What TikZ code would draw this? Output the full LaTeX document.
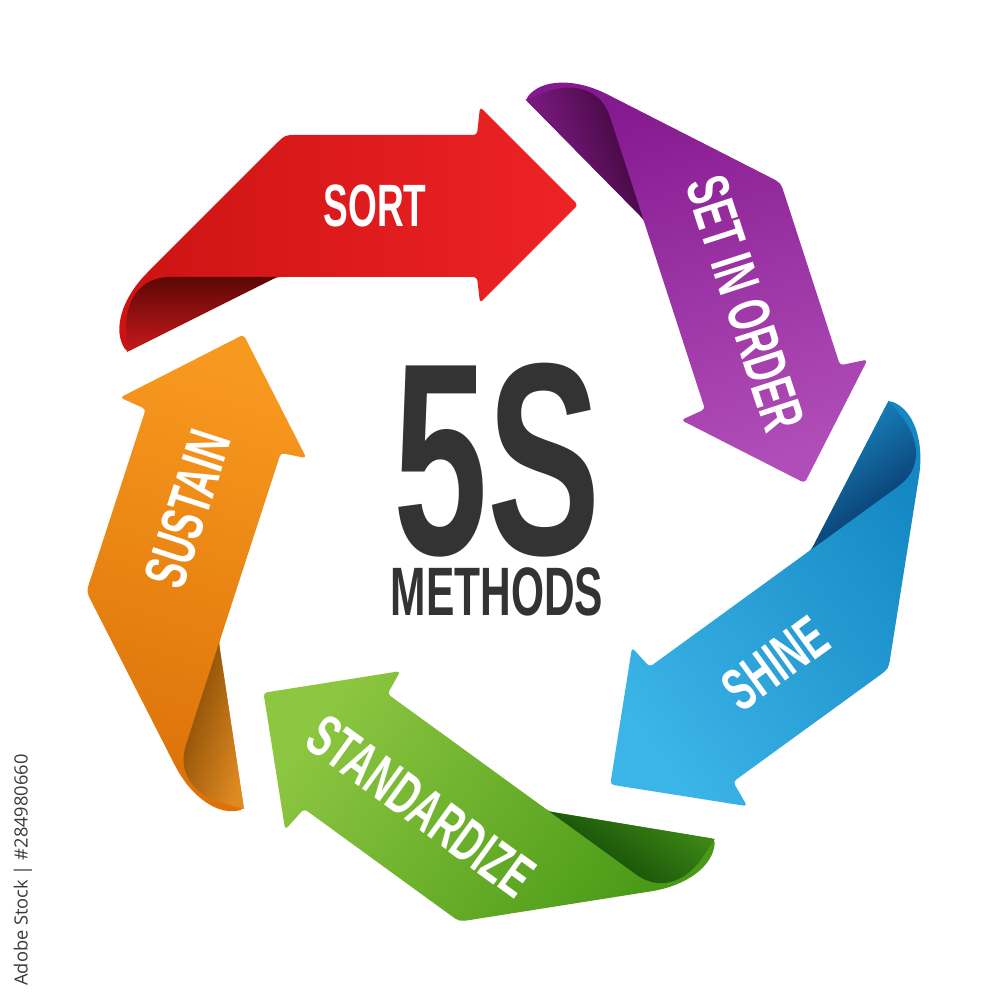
\documentclass[tikz,border=0pt]{standalone}
\usepackage{fontspec}
\usepackage{graphicx}
\usepackage{xcolor}
\newfontfamily\condfont{Liberation Sans}
\newfontfamily\stockfont{Open Sans}
\newcommand\narrowtext[1]{\scalebox{0.62}[1]{#1}}

\definecolor{ink}{HTML}{333333}
\definecolor{stockgray}{HTML}{3A3A3A}
\definecolor{sortA}{HTML}{CC1212}
\definecolor{sortB}{HTML}{EE2326}
\definecolor{sortC}{HTML}{5C0804}
\definecolor{sortD}{HTML}{C8191D}
\definecolor{orderA}{HTML}{85198F}
\definecolor{orderB}{HTML}{B04DB8}
\definecolor{orderC}{HTML}{3A0635}
\definecolor{orderD}{HTML}{8A1E93}
\definecolor{shineA}{HTML}{1588C3}
\definecolor{shineB}{HTML}{3BB4E7}
\definecolor{shineC}{HTML}{052B5C}
\definecolor{shineD}{HTML}{1B8BC6}
\definecolor{standA}{HTML}{4A9A17}
\definecolor{standB}{HTML}{8DC641}
\definecolor{standC}{HTML}{0A3D04}
\definecolor{standD}{HTML}{3F8A16}
\definecolor{keepA}{HTML}{DC7208}
\definecolor{keepB}{HTML}{F8991F}
\definecolor{keepC}{HTML}{7A4300}
\definecolor{keepD}{HTML}{E08A22}

\begin{document}
\begin{tikzpicture}[word/.style={text=white,inner sep=0pt,font=\condfont\bfseries\fontsize{17}{17}\selectfont}]
  \fill[white] (-5,-5) rectangle (5,5);
  \useasboundingbox (-5,-5) rectangle (5,5);

  % one ribbon arrow per step, turned round the centre
  \foreach \ang/\tl/\hd/\fa/\fb/\txt/\wang/\wx/\nm [evaluate=\ang as \sang using \ang+90] in
    {0/sortA/sortB/sortC/sortD/SORT/0/-1.25/sort,
     -72/orderA/orderB/orderC/orderD/SET IN ORDER/-72/-1.11/setinorder,
     -144/shineA/shineB/shineC/shineD/SHINE/36/-1.27/shine,
     -216/standA/standB/standC/standD/STANDARDIZE/-36/-1.16/standardize,
     -288/keepA/keepB/keepC/keepD/SUSTAIN/72/-1.05/sustain}
  {
    \begin{scope}[rotate=\ang]
      \shade[left color=\tl,right color=\hd,shading angle=\sang,rounded corners=1pt]
        (0.78,2.95) -- (-0.20,3.93) -- (-0.23,3.65) -- (-2.0,3.65)
        .. controls (-2.15,3.65) .. (-2.26,3.54) -- (-3.50,2.30)
        .. controls (-3.78,2.02) and (-3.88,1.70) .. (-3.73,1.48)
        -- (-2.23,2.23) -- (-0.23,2.23) -- (-0.20,1.97) -- cycle;
      \shade[top color=\fa,bottom color=\fb,shading angle=\ang]
        (-2.23,2.23) -- (-3.30,2.23)
        .. controls (-3.58,2.23) and (-3.74,2.02) .. (-3.74,1.72)
        -- (-3.73,1.48) -- cycle;
      \node[word,rotate=\wang] (\nm) at (\wx,2.94) {\narrowtext{\txt}};
    \end{scope}
  }

  \node[text=ink,inner sep=0pt,font=\condfont\bfseries\fontsize{78}{78}\selectfont] (fives) at (-0.03,0.40) {\narrowtext{5S}};
  \node[text=ink,inner sep=0pt,font=\condfont\bfseries\fontsize{19.5}{19.5}\selectfont] (methods) at (-0.03,-0.92) {\narrowtext{METHODS}};

  \node[rotate=90,text=stockgray,inner sep=0pt,font=\stockfont\fontsize{5.2}{6}\selectfont] (stock) at (-4.77,-3.70) {Adobe Stock | \#284980660};
\end{tikzpicture}
\end{document}
